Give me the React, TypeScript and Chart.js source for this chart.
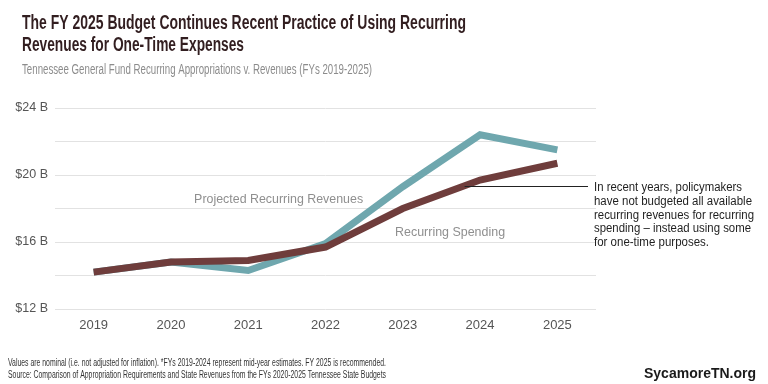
import React, { useEffect, useRef } from "react";
import { Chart, registerables } from "chart.js";

Chart.register(...registerables);

const years = ["2019", "2020", "2021", "2022", "2023", "2024", "2025"];
const recurringSpending = [14.2, 14.8, 14.9, 15.7, 18.0, 19.7, 20.7];
const projectedRevenues = [14.2, 14.8, 14.3, 15.9, 19.3, 22.4, 21.5];

const titleLines = [
  "The FY 2025 Budget Continues Recent Practice of Using Recurring",
  "Revenues for One-Time Expenses",
];
const subtitle = "Tennessee General Fund Recurring Appropriations v. Revenues (FYs 2019-2025)";
const footnoteLines = [
  "Values are nominal (i.e. not adjusted for inflation). *FYs 2019-2024 represent mid-year estimates. FY 2025 is recommended.",
  "Source: Comparison of Appropriation Requirements and State Revenues from the FYs 2020-2025 Tennessee State Budgets",
];
const brand = "SycamoreTN.org";
const annotationLines = [
  "In recent years, policymakers",
  "have not budgeted all available",
  "recurring revenues for recurring",
  "spending – instead using some",
  "for one-time purposes.",
];
const revenueLabel = "Projected Recurring Revenues";
const spendingLabel = "Recurring Spending";

const FONT = "'Liberation Sans', Arial, Helvetica, sans-serif";

const textPlugin = {
  id: "texts",
  afterDraw(chart: any) {
    const ctx = chart.ctx as CanvasRenderingContext2D;
    const xs = chart.scales.x;
    const ys = chart.scales.y;
    ctx.save();
    ctx.textBaseline = "alphabetic";
    ctx.textAlign = "left";
    // Title
    ctx.fillStyle = "#321e20";
    ctx.font = `bold 20px ${FONT}`;
    ctx.fillText(titleLines[0], 22, 29, 444);
    ctx.fillText(titleLines[1], 22, 51, 222);
    // Subtitle
    ctx.fillStyle = "#8c8c8c";
    ctx.font = `14px ${FONT}`;
    ctx.fillText(subtitle, 22, 74, 350);
    // Footnote
    ctx.fillStyle = "#333333";
    ctx.font = `10px ${FONT}`;
    ctx.fillText(footnoteLines[0], 8, 366, 378);
    ctx.fillText(footnoteLines[1], 8, 378, 378);
    // Brand
    ctx.fillStyle = "#1a1a1a";
    ctx.font = `bold 14px ${FONT}`;
    ctx.fillText(brand, 644, 378, 118);
    // Series labels
    ctx.fillStyle = "#8f8f8f";
    ctx.font = `13.5px ${FONT}`;
    const x20 = xs.getPixelForValue(1);
    const x21 = xs.getPixelForValue(2);
    ctx.fillText(revenueLabel, x20 + (x21 - x20) * 0.3, ys.getPixelForValue(18.35), 169);
    const x23 = xs.getPixelForValue(4);
    const x22 = xs.getPixelForValue(3);
    ctx.fillText(spendingLabel, x22 + (x23 - x22) * 0.9, ys.getPixelForValue(16.35), 110);
    // Annotation line
    const x24 = xs.getPixelForValue(5);
    const lx = x24 - (x24 - x23) * 0.2;
    const ly = Math.round(ys.getPixelForValue(19.35)) + 0.5;
    ctx.strokeStyle = "#222222";
    ctx.lineWidth = 1;
    ctx.beginPath();
    ctx.moveTo(lx, ly);
    ctx.lineTo(588, ly);
    ctx.stroke();
    // Annotation text
    ctx.fillStyle = "#1f1f1f";
    ctx.font = `12.5px ${FONT}`;
    const widths = [148, 158, 160, 157, 115];
    annotationLines.forEach((t, i) => {
      ctx.fillText(t, 594, ly + 4.5 + i * 13.8, widths[i]);
    });
    ctx.restore();
  },
};

export default function App() {
  const ref = useRef<HTMLCanvasElement>(null);
  useEffect(() => {
    if (!ref.current) return;
    const chart = new Chart(ref.current, {
      type: "line",
      data: {
        labels: years,
        datasets: [
          {
            label: spendingLabel,
            data: recurringSpending,
            borderColor: "#6f3d3c",
            backgroundColor: "#6f3d3c",
            borderWidth: 7,
            pointRadius: 0,
            tension: 0,
            fill: false,
          },
          {
            label: revenueLabel,
            data: projectedRevenues,
            borderColor: "#6fa7ae",
            backgroundColor: "#6fa7ae",
            borderWidth: 7,
            pointRadius: 0,
            tension: 0,
            fill: false,
          },
        ],
      },
      options: {
        responsive: false,
        animation: false,
        devicePixelRatio: 1,
        layout: { padding: { left: 0, right: 172, top: 108, bottom: 45 } },
        plugins: {
          legend: { display: false },
          tooltip: { enabled: false },
          title: { display: false },
        },
        scales: {
          x: {
            offset: true,
            grid: { display: false, drawTicks: false },
            border: { display: false },
            ticks: {
              color: "#555555",
              font: { family: FONT, size: 13 },
              padding: 9,
              maxRotation: 0,
            },
            afterFit: (s: any) => {
              s.height = 30;
            },
          },
          y: {
            min: 12,
            max: 24,
            grid: { color: "#e2e2e2", lineWidth: 1, drawTicks: false },
            border: { display: false },
            ticks: {
              stepSize: 2,
              color: "#555555",
              font: { family: FONT, size: 12.5 },
              padding: 7,
              callback: (v: any) => (Number(v) % 4 === 0 ? `$${v} B` : ""),
            },
            afterFit: (s: any) => {
              s.width = 55;
            },
          },
        },
      },
      plugins: [textPlugin],
    });
    return () => chart.destroy();
  }, []);
  return (
    <div style={{ position: "fixed", left: 0, top: 0, width: 768, height: 384, background: "#fff" }}>
      <canvas ref={ref} width={768} height={384} style={{ display: "block", width: 768, height: 384 }} />
    </div>
  );
}
